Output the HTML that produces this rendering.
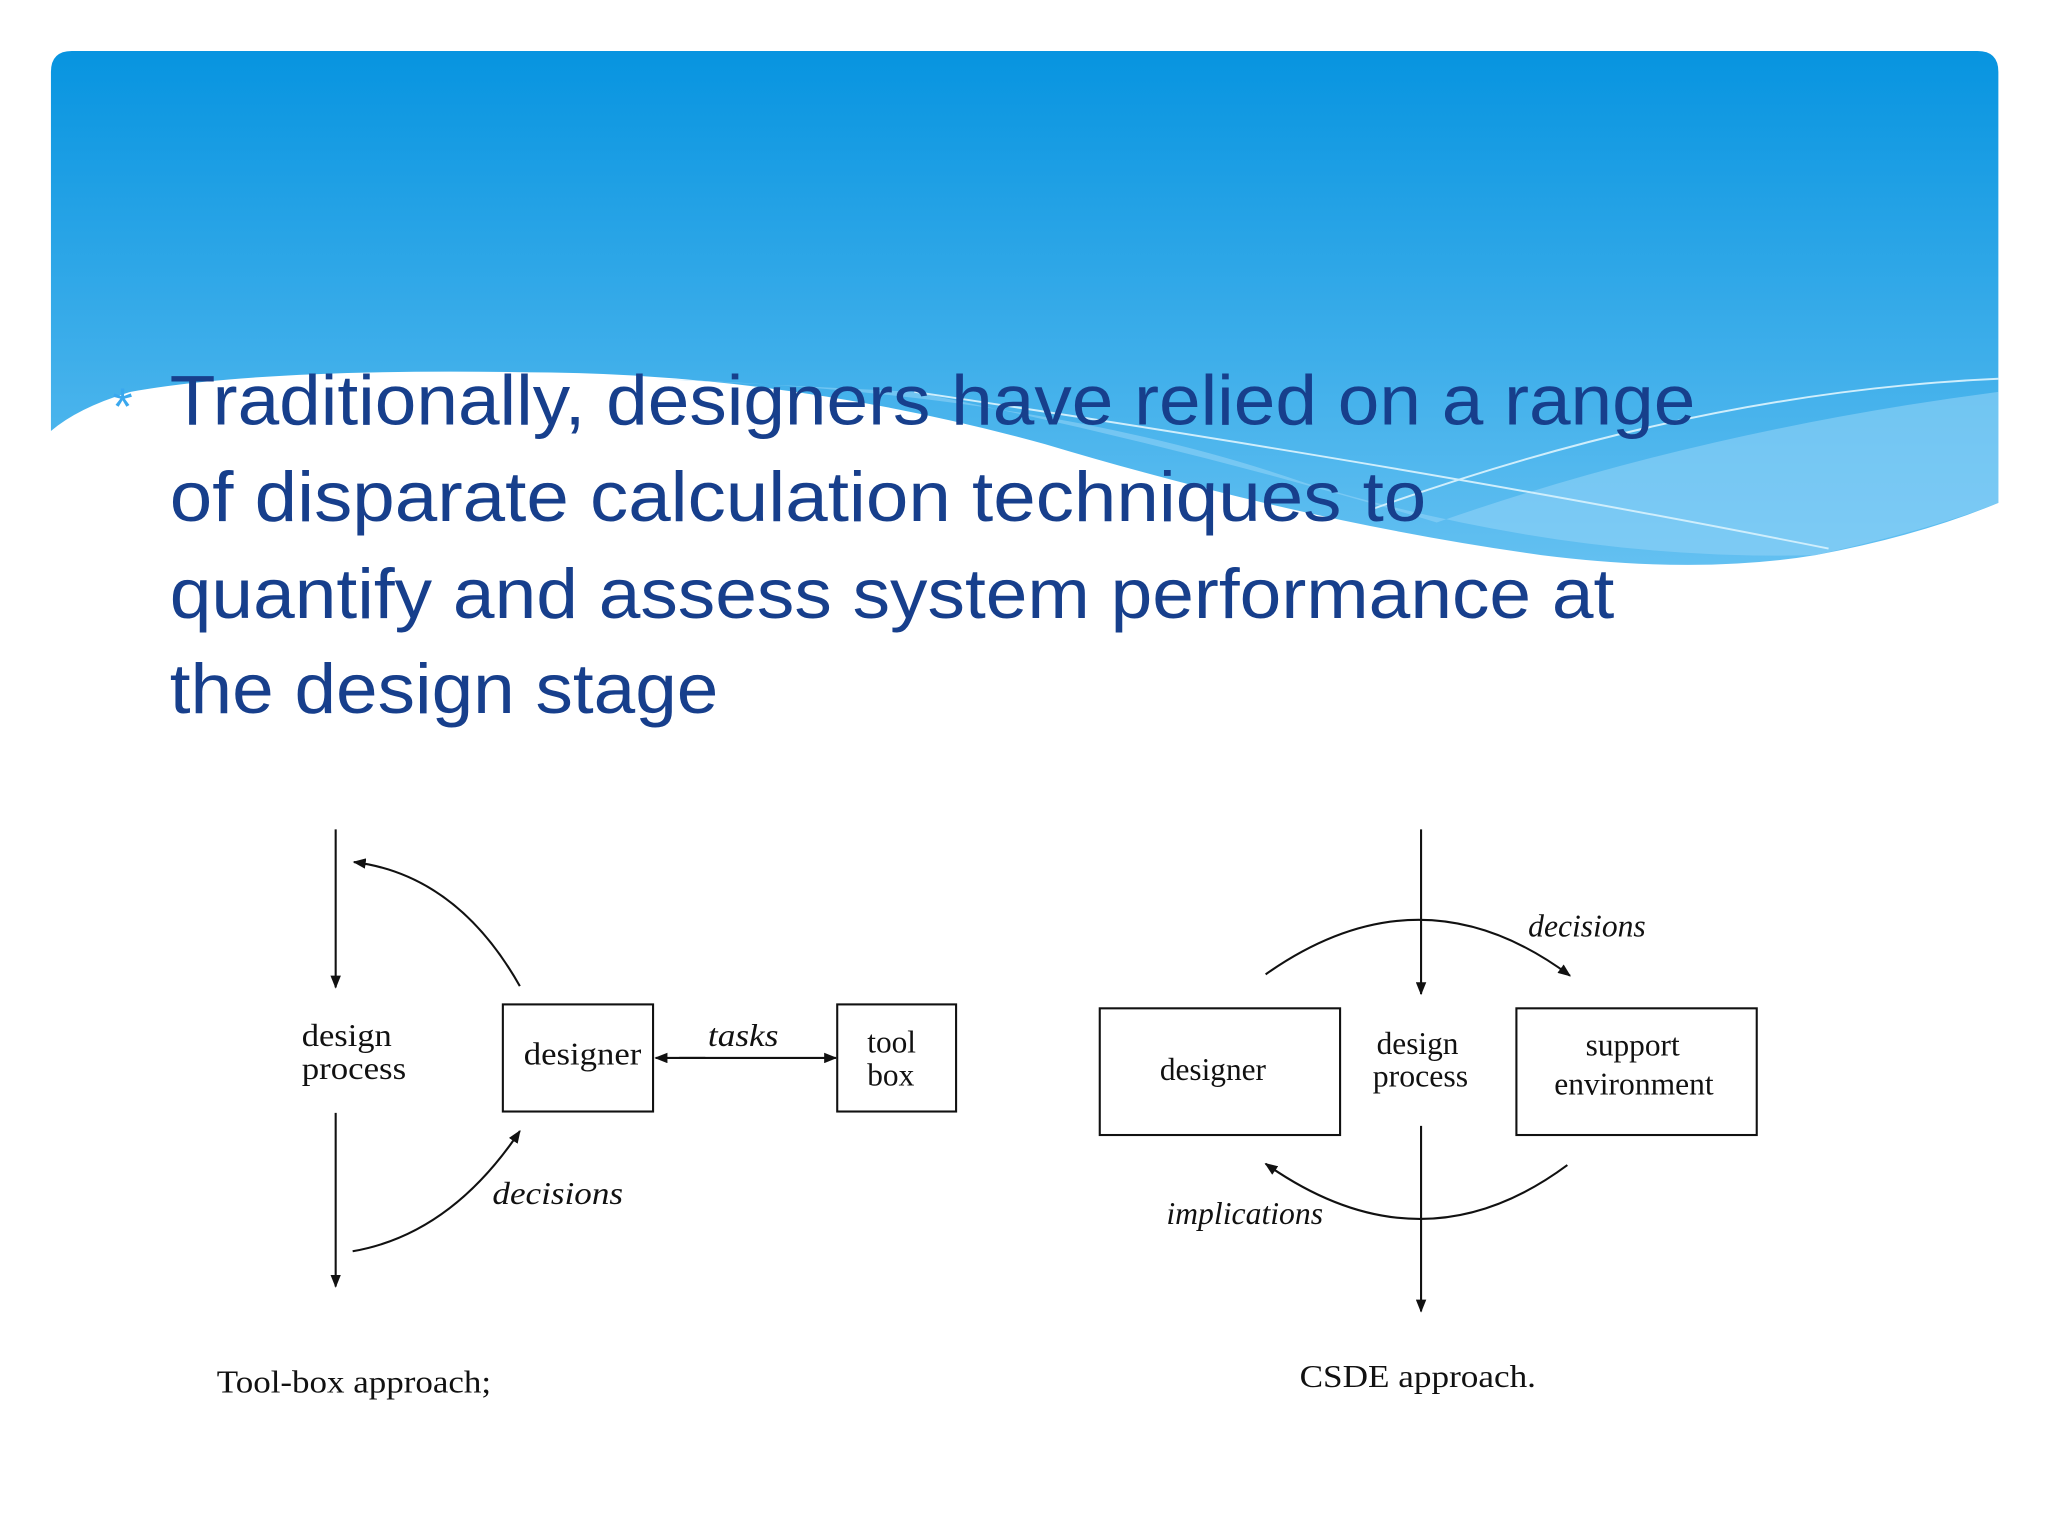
<!DOCTYPE html>
<html><head><meta charset="utf-8"><style>
html,body{margin:0;padding:0;background:#fff;}
svg{display:block;}
.s{font-family:"Liberation Serif",serif;fill:#111;font-size:24px;}
.i{font-style:italic;}
</style></head><body>
<svg width="2048" height="1536" viewBox="0 0 1568 1176" xmlns="http://www.w3.org/2000/svg">
<defs>
<linearGradient id="g" x1="0" y1="0" x2="0" y2="1">
<stop offset="0" stop-color="#0794e0"/><stop offset="1" stop-color="#63c0f1"/>
</linearGradient>
<marker id="a" markerWidth="10" markerHeight="8" refX="9" refY="4" orient="auto" markerUnits="userSpaceOnUse">
<path d="M0,0 L10,4 L0,8 z" fill="#111"/></marker>
</defs>
<path d="M39,55 Q39,39 55,39 L1514,39 Q1530,39 1530,55 L1530,385 Q1470,410 1390,425 Q1300,440 1180,425 Q1000,400 800,340 Q600,285 400,285 Q200,282 100,300 Q60,312 39,330 Z" fill="url(#g)"/>
<path d="M500,290 Q800,300 1000,370 Q1200,430 1390,425 Q1480,405 1530,385 L1530,300 Q1300,330 1100,400 Q900,340 700,300 Z" fill="#8fd2f6" opacity="0.6"/>
<path d="M1050,390 Q1300,300 1530,290" stroke="#cfeefc" stroke-width="1.5" fill="none"/>
<path d="M700,300 Q1100,360 1400,420" stroke="#cfeefc" stroke-width="1.5" fill="none"/>
<g font-family="Liberation Sans, sans-serif" font-size="54" fill="#173f8c">
<text x="86" y="325" fill="#3aa8ee" font-size="40">*</text>
<text x="130" y="325" textLength="1168" lengthAdjust="spacingAndGlyphs">Traditionally, designers have relied on a range</text>
<text x="130" y="399" textLength="962" lengthAdjust="spacingAndGlyphs">of disparate calculation techniques to</text>
<text x="130" y="473" textLength="1106" lengthAdjust="spacingAndGlyphs">quantify and assess system performance at</text>
<text x="130" y="546" textLength="420" lengthAdjust="spacingAndGlyphs">the design stage</text>
</g>
<g stroke="#111" stroke-width="1.6" fill="none">
<line x1="257" y1="635" x2="257" y2="756" marker-end="url(#a)"/>
<line x1="257" y1="852" x2="257" y2="985" marker-end="url(#a)"/>
<path d="M398,755 Q350,670 271,660" marker-end="url(#a)"/>
<path d="M270,958 Q345,945 398,866" marker-end="url(#a)"/>
<rect x="385" y="769" width="115" height="82"/>
<rect x="641" y="769" width="91" height="82"/>
<line x1="520" y1="810" x2="640" y2="810" marker-end="url(#a)"/>
<line x1="540" y1="810" x2="502" y2="810" marker-end="url(#a)"/>
<line x1="1088" y1="635" x2="1088" y2="761" marker-end="url(#a)"/>
<line x1="1088" y1="862" x2="1088" y2="1004" marker-end="url(#a)"/>
<path d="M969,746 Q1088,662 1202,747" marker-end="url(#a)"/>
<path d="M1200,892 Q1088,975 969,891" marker-end="url(#a)"/>
<rect x="842" y="772" width="184" height="97"/>
<rect x="1161" y="772" width="184" height="97"/>
</g>
<text class="s" x="231" y="801" textLength="69" lengthAdjust="spacingAndGlyphs">design</text>
<text class="s" x="231" y="826" textLength="80" lengthAdjust="spacingAndGlyphs">process</text>
<text class="s" x="401" y="815" textLength="90" lengthAdjust="spacingAndGlyphs">designer</text>
<text class="s i" x="542" y="801" textLength="54" lengthAdjust="spacingAndGlyphs">tasks</text>
<text class="s" x="664" y="806">tool</text>
<text class="s" x="664" y="831">box</text>
<text class="s i" x="377" y="922" textLength="100" lengthAdjust="spacingAndGlyphs">decisions</text>
<text class="s" x="166" y="1066" textLength="210" lengthAdjust="spacingAndGlyphs">Tool-box approach;</text>
<text class="s" x="888" y="827">designer</text>
<text class="s" x="1054" y="807">design</text>
<text class="s" x="1051" y="832" textLength="73" lengthAdjust="spacingAndGlyphs">process</text>
<text class="s" x="1214" y="808" textLength="72" lengthAdjust="spacingAndGlyphs">support</text>
<text class="s" x="1190" y="838" textLength="122" lengthAdjust="spacingAndGlyphs">environment</text>
<text class="s i" x="1170" y="717" textLength="90" lengthAdjust="spacingAndGlyphs">decisions</text>
<text class="s i" x="893" y="937" textLength="120" lengthAdjust="spacingAndGlyphs">implications</text>
<text class="s" x="995" y="1062" textLength="181" lengthAdjust="spacingAndGlyphs">CSDE approach.</text>
</svg>
</body></html>
